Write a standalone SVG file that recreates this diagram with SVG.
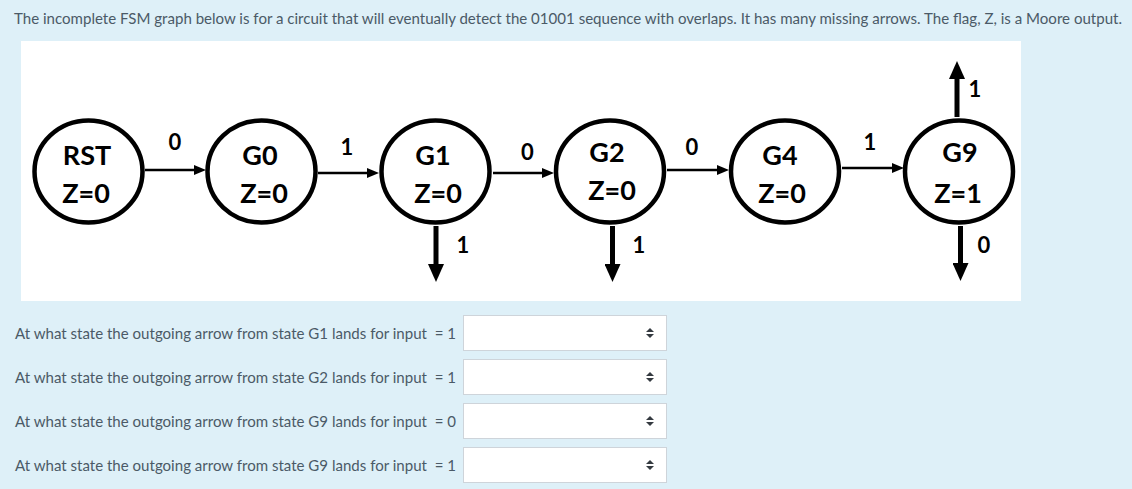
<svg xmlns="http://www.w3.org/2000/svg" width="1132" height="489" viewBox="0 0 1132 489">
  <style>
    .ui { font-family: Lato, "Open Sans", "Liberation Sans", sans-serif; font-size: 15px; fill: #4b5a67; }
    .state { fill: #ffffff; stroke: #000000; stroke-width: 4.5; }
    .name { font-family: Lato, "Open Sans", "Liberation Sans", sans-serif; font-weight: bold; font-size: 27px; fill: #000000; text-anchor: middle; }
    .lbl { font-family: Lato, "Open Sans", "Liberation Sans", sans-serif; font-weight: bold; font-size: 22px; fill: #000000; text-anchor: middle; }
    .thin { stroke: #000000; stroke-width: 2.5; fill: none; marker-end: url(#headThin); }
    .thick { stroke: #000000; stroke-width: 5; fill: none; marker-end: url(#headThick); }
    .box { fill: #ffffff; stroke: #ced4da; stroke-width: 1; }
    .spin { fill: #343a40; }
  </style>
  <defs>
    <marker id="headThin" markerUnits="userSpaceOnUse" markerWidth="12" markerHeight="10" refX="5" refY="5" orient="auto">
      <path d="M0,0 L12,5 L0,10 z" fill="#000000"/>
    </marker>
    <marker id="headThick" markerUnits="userSpaceOnUse" markerWidth="18" markerHeight="16" refX="7" refY="8" orient="auto">
      <path d="M0,0 L18,8 L0,16 z" fill="#000000"/>
    </marker>
    <g id="spinner">
      <path d="M-4,-1 L0,-5 L4,-1 z M-4,1 L0,5 L4,1 z"/>
    </g>
  </defs>

  <rect x="0" y="0" width="1132" height="489" fill="#def0f8"/>
  <text class="ui" x="14" y="24" textLength="1108" lengthAdjust="spacingAndGlyphs">The incomplete FSM graph below is for a circuit that will eventually detect the 01001 sequence with overlaps. It has many missing arrows. The flag, Z, is a Moore output.</text>

  <rect x="21" y="41" width="1000" height="260" fill="#ffffff"/>

  <g id="connectors">
    <line class="thin" x1="145" y1="170" x2="199" y2="170"/>
    <line class="thin" x1="318" y1="173" x2="372" y2="173"/>
    <line class="thin" x1="493" y1="173" x2="547" y2="173"/>
    <line class="thin" x1="667" y1="170" x2="722" y2="170"/>
    <line class="thin" x1="842" y1="168" x2="897" y2="168"/>
    <line class="thick" x1="436" y1="226" x2="436" y2="271"/>
    <line class="thick" x1="612.5" y1="226" x2="612.5" y2="271"/>
    <line class="thick" x1="960.5" y1="226" x2="960.5" y2="270"/>
    <line class="thick" x1="957" y1="117" x2="957" y2="72"/>
    <text class="lbl" x="175" y="150">0</text>
    <text class="lbl" x="347" y="155">1</text>
    <text class="lbl" x="527.5" y="160">0</text>
    <text class="lbl" x="692" y="155">0</text>
    <text class="lbl" x="870" y="150">1</text>
    <text class="lbl" x="975" y="97">1</text>
    <text class="lbl" x="984" y="253">0</text>
    <text class="lbl" x="463" y="253">1</text>
    <text class="lbl" x="639" y="253">1</text>
  </g>

  <g id="RST">
    <ellipse class="state" cx="88.5" cy="171.5" rx="54" ry="51"/>
    <text class="name" x="87" y="165">RST</text>
    <text class="name" x="86" y="203">Z=0</text>
  </g>
  <g id="G0">
    <ellipse class="state" cx="261.5" cy="171.5" rx="54" ry="51"/>
    <text class="name" x="260" y="165">G0</text>
    <text class="name" x="264" y="203">Z=0</text>
  </g>
  <g id="G1">
    <ellipse class="state" cx="435.5" cy="171.5" rx="54" ry="51"/>
    <text class="name" x="433" y="165">G1</text>
    <text class="name" x="438" y="203">Z=0</text>
  </g>
  <g id="G2">
    <ellipse class="state" cx="610" cy="171.5" rx="54" ry="51"/>
    <text class="name" x="607" y="162">G2</text>
    <text class="name" x="612" y="200">Z=0</text>
  </g>
  <g id="G4">
    <ellipse class="state" cx="785" cy="171.5" rx="54" ry="51"/>
    <text class="name" x="780" y="165">G4</text>
    <text class="name" x="782" y="203">Z=0</text>
  </g>
  <g id="G9">
    <ellipse class="state" cx="959" cy="171.5" rx="54" ry="51"/>
    <text class="name" x="960" y="162">G9</text>
    <text class="name" x="958" y="203">Z=1</text>
  </g>

  <g id="questions">
    <text class="ui" x="15" y="339" textLength="441" lengthAdjust="spacingAndGlyphs">At what state the outgoing arrow from state G1 lands for input &#160;= 1</text>
    <rect class="box" x="463.5" y="315.5" width="203" height="35"/>
    <use href="#spinner" class="spin" x="650" y="333"/>

    <text class="ui" x="15" y="383" textLength="441" lengthAdjust="spacingAndGlyphs">At what state the outgoing arrow from state G2 lands for input &#160;= 1</text>
    <rect class="box" x="463.5" y="359.5" width="203" height="35"/>
    <use href="#spinner" class="spin" x="650" y="377"/>

    <text class="ui" x="15" y="427" textLength="441" lengthAdjust="spacingAndGlyphs">At what state the outgoing arrow from state G9 lands for input &#160;= 0</text>
    <rect class="box" x="463.5" y="403.5" width="203" height="35"/>
    <use href="#spinner" class="spin" x="650" y="421"/>

    <text class="ui" x="15" y="471" textLength="441" lengthAdjust="spacingAndGlyphs">At what state the outgoing arrow from state G9 lands for input &#160;= 1</text>
    <rect class="box" x="463.5" y="447.5" width="203" height="35"/>
    <use href="#spinner" class="spin" x="650" y="465"/>
  </g>
</svg>
